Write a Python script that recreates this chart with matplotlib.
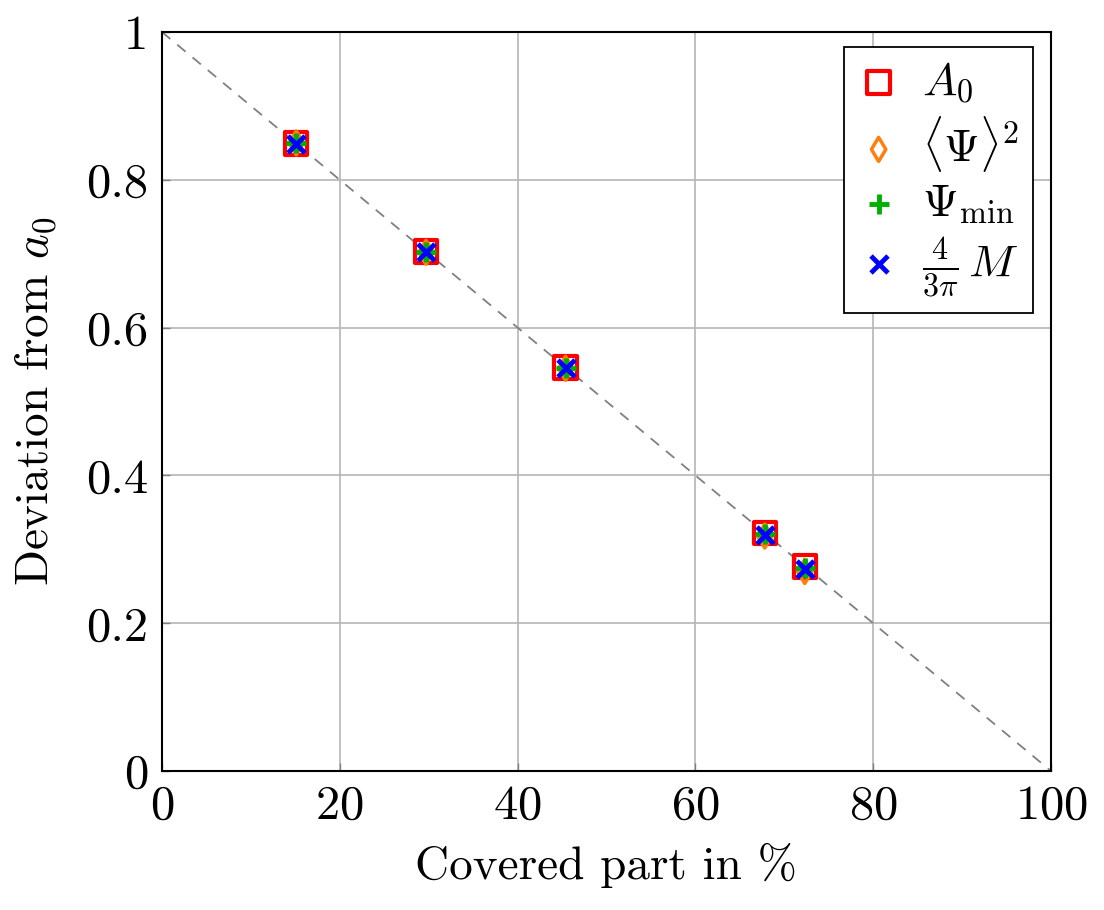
import numpy as np
import matplotlib
matplotlib.use("Agg")
import matplotlib.pyplot as plt

plt.rcParams['font.family'] = 'serif'
plt.rcParams['font.serif'] = ['cmr10']
plt.rcParams['mathtext.fontset'] = 'cm'
plt.rcParams['axes.formatter.use_mathtext'] = True
plt.rcParams['axes.unicode_minus'] = False

# covered part (%) and deviation from a0 for each estimate
covered = [15.1, 29.7, 45.4, 67.8, 72.3]
dev_A0 = [0.849, 0.703, 0.546, 0.322, 0.277]
dev_psi2 = [0.850, 0.702, 0.545, 0.318, 0.270]
dev_psimin = [0.850, 0.703, 0.546, 0.321, 0.275]
dev_M = [0.849, 0.703, 0.546, 0.320, 0.274]

fig = plt.figure(figsize=(11.04, 9.10), dpi=100)
ax = fig.add_axes([0.1467, 0.1527, 0.8053, 0.8121])

ax.plot([0, 100], [1, 0], linestyle=(0, (6, 5)), color='gray', lw=1.3, zorder=2)

ax.scatter(covered, dev_A0, marker='s', s=260, facecolor='none', edgecolor='red', lw=3,
           label=r'$A_0$', zorder=3)
ax.scatter(covered, dev_psi2, marker='d', s=150, facecolor='none', edgecolor='#ff7f0e', lw=2.5,
           label=r'$\langle\Psi\rangle^2$', zorder=4)
ax.scatter(covered, dev_psimin, marker='+', s=200, color='#00b000', lw=3.5,
           label=r'$\Psi_{\min}$', zorder=5)
ax.scatter(covered, dev_M, marker='x', s=150, color='blue', lw=3.5,
           label=r'$\frac{4}{3\pi}\,M$', zorder=6)

ax.set_xlim(0, 100)
ax.set_ylim(0, 1)
ax.set_xticks(np.arange(0, 101, 20))
ax.set_yticks(np.arange(0, 1.01, 0.2))
ax.set_yticklabels(['0', '0.2', '0.4', '0.6', '0.8', '1'])
ax.tick_params(labelsize=35, direction='in', length=6, width=1, color='gray', pad=10)
ax.grid(True, color='#b5b5b5', lw=1.2)
ax.set_axisbelow(True)
for s in ax.spines.values():
    s.set_linewidth(1.5)

ax.set_xlabel('Covered part in %', fontsize=34, labelpad=10)
ax.set_ylabel(r'Deviation from $a_0$', fontsize=34, labelpad=20)

leg = ax.legend(loc='upper right', fontsize=33, frameon=True, fancybox=False,
                edgecolor='black', framealpha=1, borderpad=0.3, handletextpad=0.5,
                handlelength=0.9, labelspacing=0.2, borderaxespad=0,
                bbox_to_anchor=(0.98, 0.98), scatterpoints=1)
leg.get_frame().set_linewidth(1.3)

plt.savefig("out.png", dpi=100)
